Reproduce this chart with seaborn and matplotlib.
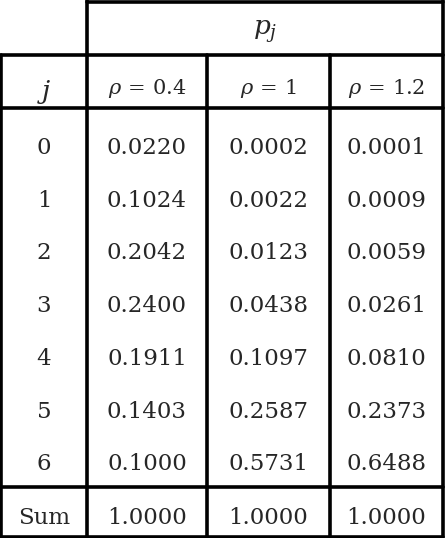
import matplotlib
matplotlib.use("Agg")
import matplotlib.pyplot as plt
import seaborn as sns

sns.set_style("white")
plt.rcParams['font.family'] = ['DejaVu Serif']
plt.rcParams['mathtext.fontset'] = 'dejavuserif'

rows = ["0", "1", "2", "3", "4", "5", "6"]
headers = [r"$\rho\,=\,0.4$", r"$\rho\,=\,1$", r"$\rho\,=\,1.2$"]
rho04 = ["0.0220", "0.1024", "0.2042", "0.2400", "0.1911", "0.1403", "0.1000"]
rho1 = ["0.0002", "0.0022", "0.0123", "0.0438", "0.1097", "0.2587", "0.5731"]
rho12 = ["0.0001", "0.0009", "0.0059", "0.0261", "0.0810", "0.2373", "0.6488"]
sums = ["1.0000", "1.0000", "1.0000"]

fig = plt.figure(figsize=(4.46, 5.38), dpi=100)
ax = fig.add_axes([0, 0, 1, 1])
ax.set_xlim(0, 446); ax.set_ylim(538, 0); ax.axis("off")

lw = 2.6
xs = [1, 87, 207, 330, 443]
ax.plot([87, 443], [1.5, 1.5], color="black", lw=lw)
for y in [55, 108, 487, 536.5]:
    ax.plot([1, 443], [y, y], color="black", lw=lw)
ax.plot([1.2, 1.2], [55, 537], color="black", lw=lw)
ax.plot([87, 87], [0, 537], color="black", lw=lw)
ax.plot([443, 443], [0, 537], color="black", lw=lw)
for x in [207, 330]:
    ax.plot([x, x], [55, 537], color="black", lw=lw)

cx = [(xs[i] + xs[i+1]) / 2 for i in range(4)]
fs = 16.5
ax.text(265, 32, r"$p_j$", ha="center", va="center", fontsize=19)
ax.text(cx[0], 92, r"$j$", ha="center", va="center", fontsize=19)
for i, h in enumerate(headers):
    ax.text(cx[i+1], 88, h, ha="center", va="center", fontsize=15)
for r, (j, a, b, c) in enumerate(zip(rows, rho04, rho1, rho12)):
    y = 148 + r * 52.7
    for k, t in enumerate([j, a, b, c]):
        ax.text(cx[k], y, t, ha="center", va="center", fontsize=fs)
ax.text(cx[0], 518, "Sum", ha="center", va="center", fontsize=fs)
for k, t in enumerate(sums):
    ax.text(cx[k+1], 518, t, ha="center", va="center", fontsize=fs)

fig.savefig("out.png", dpi=100)
